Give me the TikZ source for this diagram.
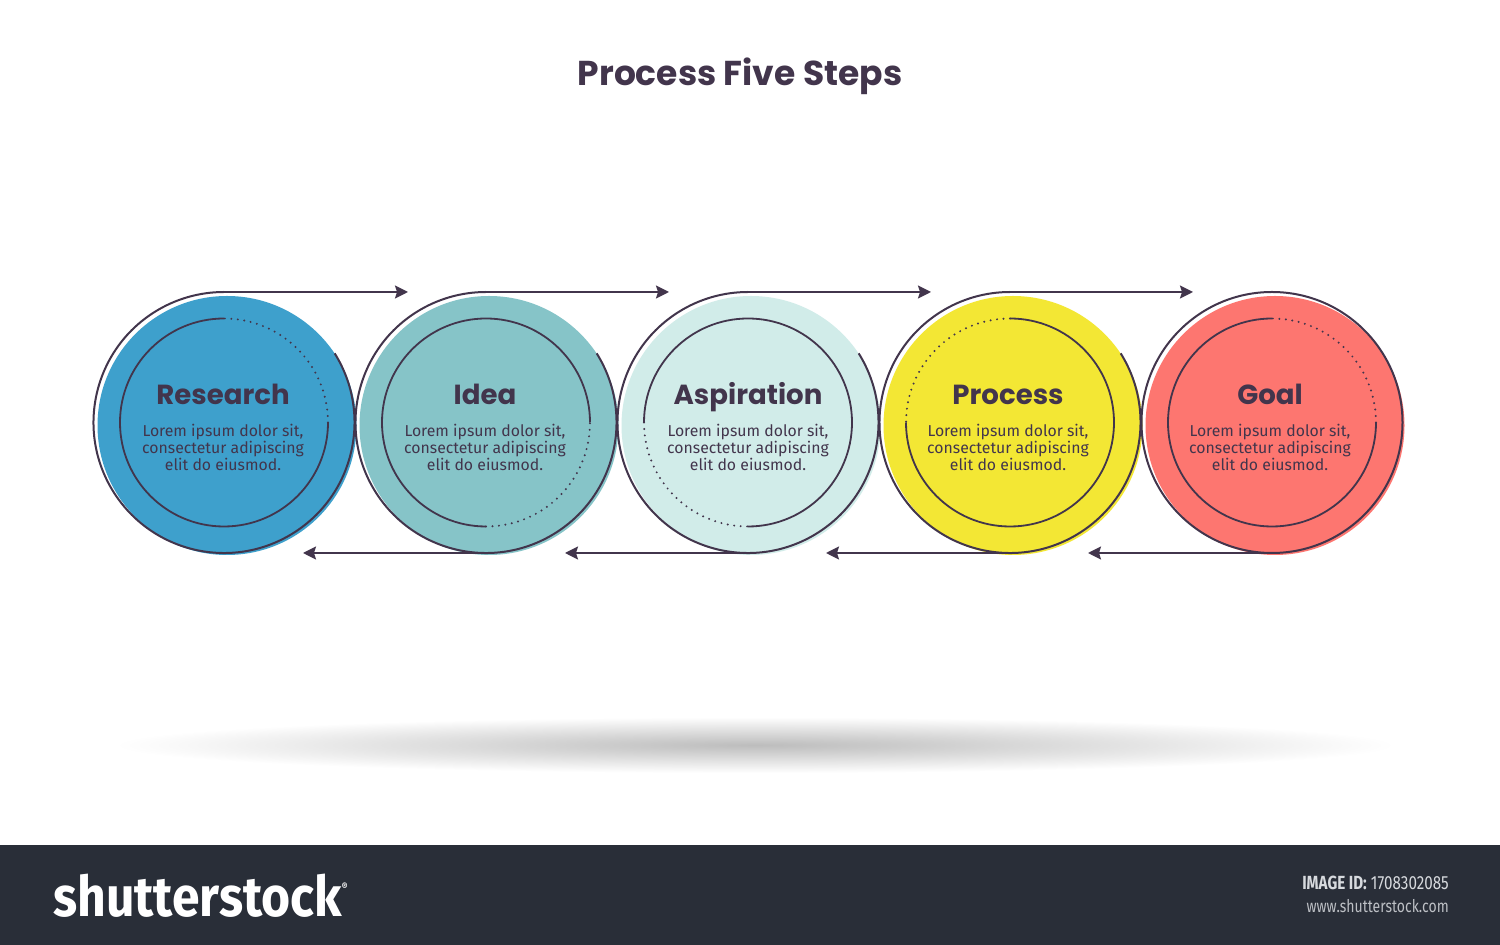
\documentclass[tikz,border=0pt]{standalone}
\usepackage{fontspec}
\setmainfont{Fira Sans}
\newfontfamily\headfont{Poppins}
\newfontfamily\bodyfont{Fira Sans}
\newfontfamily\condfont{Fira Sans}[FakeStretch=0.8]
\newfontfamily\logofont{Fira Sans}[FakeStretch=0.89]
\usetikzlibrary{arrows.meta,calc}
\definecolor{ink}{RGB}{66,53,76}
\definecolor{cA}{RGB}{62,160,204}
\definecolor{cB}{RGB}{134,196,200}
\definecolor{cC}{RGB}{209,236,233}
\definecolor{cD}{RGB}{243,231,52}
\definecolor{cE}{RGB}{253,118,112}
\definecolor{barcol}{RGB}{41,46,56}
\definecolor{barText}{RGB}{215,218,222}
\tikzset{
  anchorcirc/.style={circle, minimum size=261pt, inner sep=0pt, outer sep=0pt},
  fillcirc/.style={circle, minimum size=259pt, inner sep=0pt, outer sep=0pt},
  outline/.style={draw=ink, line width=2pt},
  arrowline/.style={draw=ink, line width=2pt, -{Stealth[length=13pt,width=13pt,inset=2pt]}},
  innersolid/.style={draw=ink, line width=1.8pt},
  innerdots/.style={draw=ink, line width=2.2pt, line cap=round, dash pattern=on 0pt off 6.5pt},
  steptitle/.style={anchor=base, inner sep=0pt, text=ink, font=\headfont\bfseries\fontsize{27.6}{29}\selectfont},
  stepbody/.style={anchor=center, inner sep=0pt, align=center, text=ink, font=\bodyfont\fontsize{15.8}{17}\selectfont},
}
\begin{document}
\begin{tikzpicture}[x=1pt,y=1pt]
\useasboundingbox (0,0) rectangle (1500,945);
\fill[white] (0,0) rectangle (1500,945);
% shadow
\shade[inner color=black!26, outer color=white] (755,200) ellipse [x radius=640pt, y radius=28pt];
% title
\node[anchor=base, inner sep=0pt, text=ink, font=\headfont\bfseries\fontsize{34.5}{36}\selectfont] (title) at (740,859) {Process Five Steps};
% anchor circles
\foreach \i/\x in {1/224,2/486,3/748,4/1010,5/1272}{
  \node[anchorcirc] (s\i) at (\x,522.5) {};
}
% fills
\node[fillcirc, fill=cA] (f1) at ($(s1)+(3,-3)$) {};
\node[fillcirc, fill=cB] (f2) at ($(s2)+(3,-3)$) {};
\node[fillcirc, fill=cC] (f3) at ($(s3)+(3,-3)$) {};
\node[fillcirc, fill=cD] (f4) at ($(s4)+(3,-3)$) {};
\node[fillcirc, fill=cE] (f5) at ($(s5)+(3,-3)$) {};
% outline arcs
\foreach \i in {1,2,3,4}{
  \draw[outline] (s\i.32) arc[start angle=32, end angle=-270, radius=130.5pt];
}
\draw[outline] (s5.north) arc[start angle=90, end angle=450, radius=130.5pt];
% arrow tips
\coordinate (t12) at (408,653);
\coordinate (t23) at (669,653);
\coordinate (t34) at (931,653);
\coordinate (t45) at (1193,653);
\coordinate (b21) at (303,392);
\coordinate (b32) at (565,392);
\coordinate (b43) at (826,392);
\coordinate (b54) at (1088,392);
\draw[arrowline] (s1.north) -- (t12);
\draw[arrowline] (s2.north) -- (t23);
\draw[arrowline] (s3.north) -- (t34);
\draw[arrowline] (s4.north) -- (t45);
\draw[arrowline] (s2.south) -- (b21);
\draw[arrowline] (s3.south) -- (b32);
\draw[arrowline] (s4.south) -- (b43);
\draw[arrowline] (s5.south) -- (b54);
% inner circles: solid and dotted parts
\draw[innersolid] (s1.center) ++(90:104pt) arc[start angle=90, end angle=360, radius=104pt];
\draw[innerdots]  (s1.center) ++(0:104pt) arc[start angle=0, end angle=90, radius=104pt];
\draw[innersolid] (s2.center) ++(0:104pt) arc[start angle=0, end angle=270, radius=104pt];
\draw[innerdots]  (s2.center) ++(-90:104pt) arc[start angle=-90, end angle=0, radius=104pt];
\draw[innersolid] (s3.center) ++(-90:104pt) arc[start angle=-90, end angle=180, radius=104pt];
\draw[innerdots]  (s3.center) ++(180:104pt) arc[start angle=180, end angle=270, radius=104pt];
\draw[innersolid] (s4.center) ++(180:104pt) arc[start angle=180, end angle=450, radius=104pt];
\draw[innerdots]  (s4.center) ++(90:104pt) arc[start angle=90, end angle=180, radius=104pt];
\draw[innersolid] (s5.center) ++(90:104pt) arc[start angle=90, end angle=360, radius=104pt];
\draw[innerdots]  (s5.center) ++(0:104pt) arc[start angle=0, end angle=90, radius=104pt];
% texts
\foreach \i/\x/\t in {1/223/Research,2/485/Idea,3/748/Aspiration,4/1008/Process,5/1270/Goal}{
  \node[steptitle] (h\i) at (\x,540) {\t};
  \node[stepbody] (d\i) at (\x,498) {Lorem ipsum dolor sit,\\consectetur adipiscing\\elit do eiusmod.};
}
% bottom bar
\fill[barcol] (0,0) rectangle (1500,100);
\node[anchor=base west, inner sep=0pt, text=white, font=\logofont\bfseries\fontsize{56}{56}\selectfont] (logo) at (53,28) {shutterstock\raisebox{26pt}{\fontsize{10}{10}\selectfont®}};
\node[anchor=base east, inner sep=0pt, text=barText, font=\condfont\fontsize{19}{19}\selectfont] (imgid) at (1449,55) {\textbf{IMAGE ID:} 1708302085};
\node[anchor=base east, inner sep=0pt, text=barText!85!barcol, font=\condfont\fontsize{17.5}{17.5}\selectfont] (www) at (1449,32) {www.shutterstock.com};
\end{tikzpicture}
\end{document}
